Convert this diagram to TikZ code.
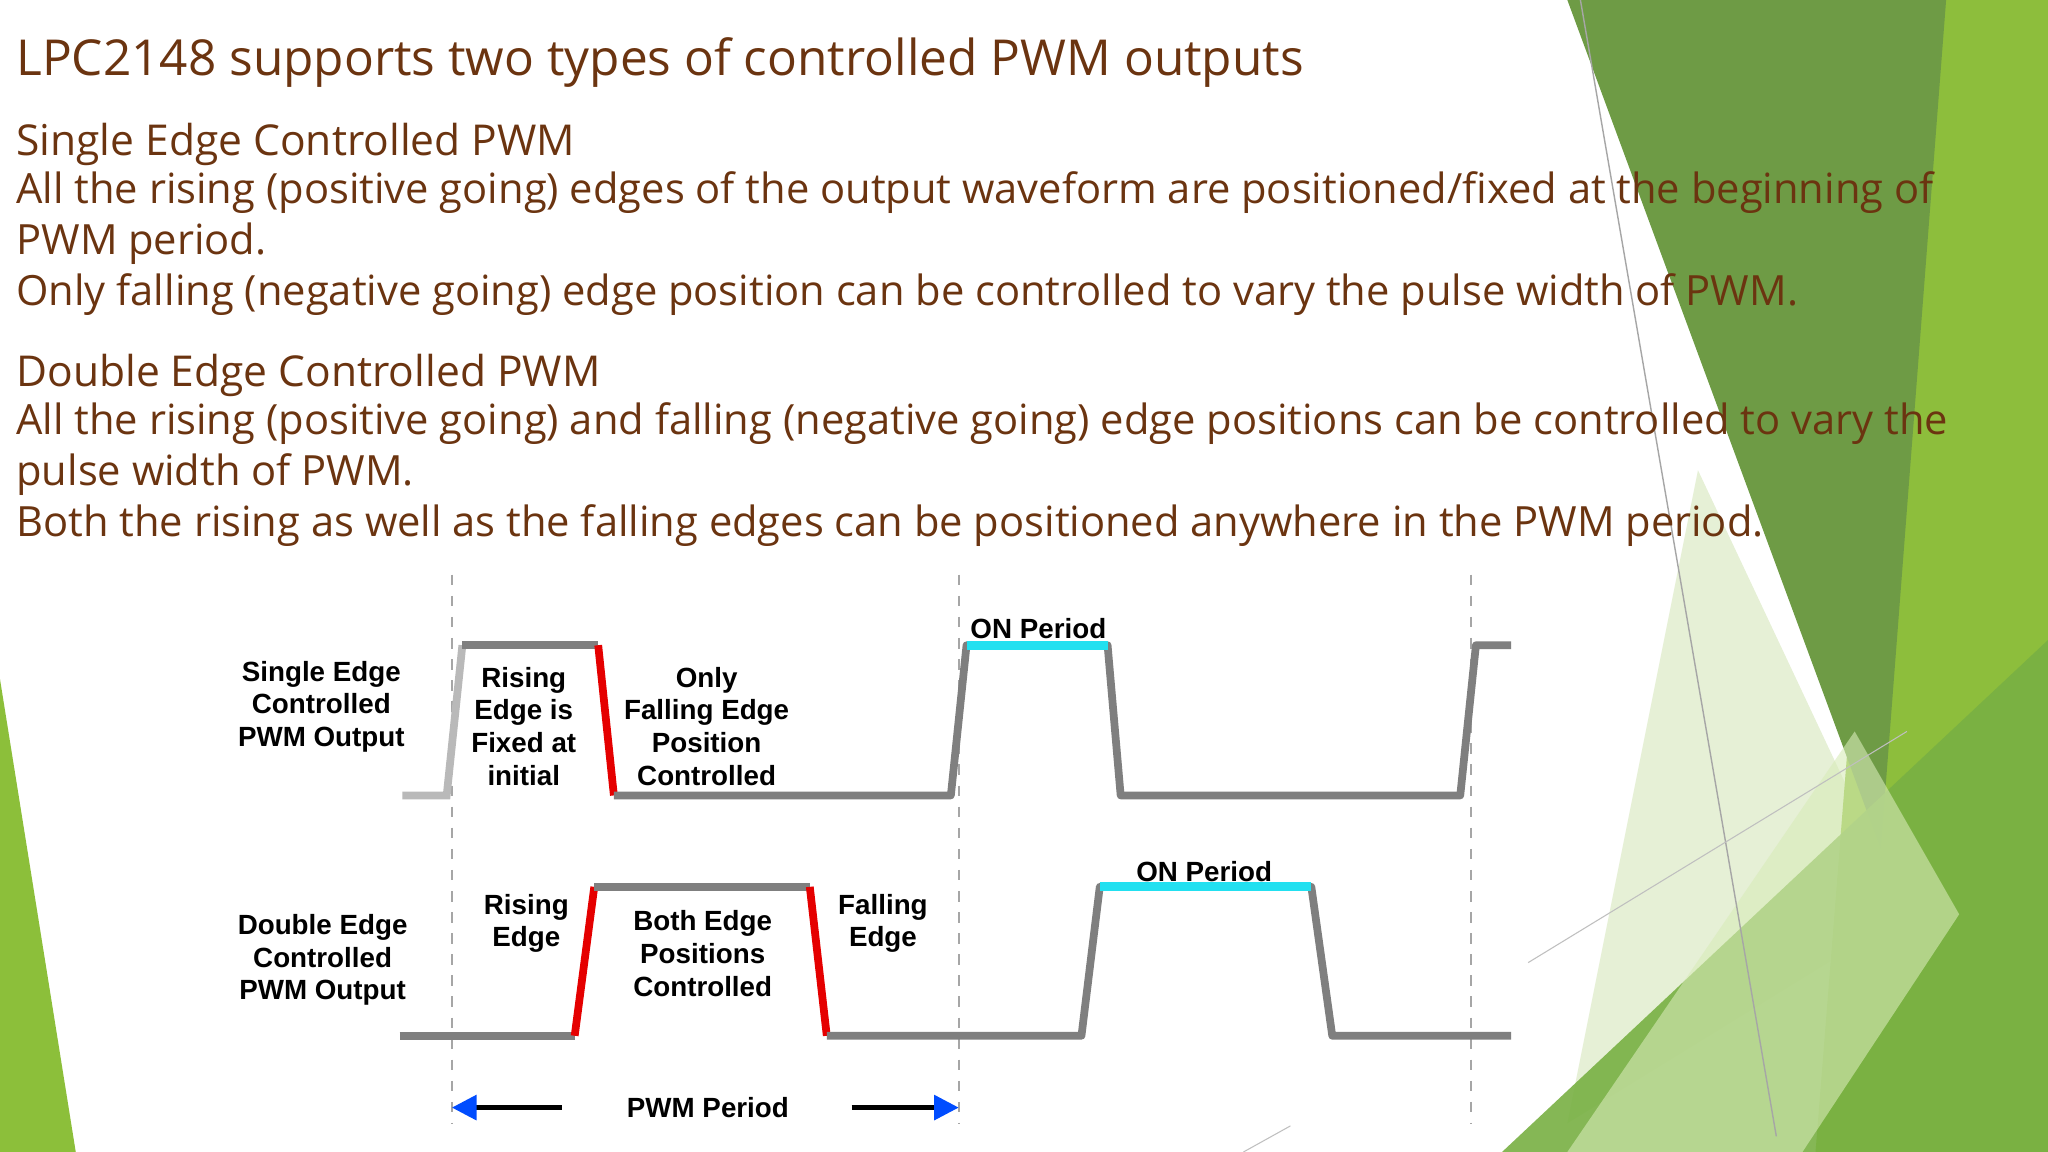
\documentclass[tikz,border=0pt]{standalone}
\usepackage{fontspec}
\setmainfont{Open Sans}
\newfontfamily\diag{Liberation Sans}
\usetikzlibrary{arrows.meta}
\definecolor{brn}{HTML}{6B3410}
\definecolor{wgray}{HTML}{7F7F7F}
\definecolor{cy}{HTML}{22E0F0}
\definecolor{gA}{HTML}{6E9B45}
\definecolor{gB}{HTML}{8DBE3C}
\definecolor{gC}{HTML}{78B043}
\definecolor{gD}{HTML}{D8EBB8}
\definecolor{gE}{HTML}{8CBF3A}
\definecolor{gF}{HTML}{E6F0D6}
\begin{document}
\begin{tikzpicture}[x=0.01306cm,y=-0.01306cm,
  txt/.style={anchor=base west,inner sep=0,text=brn,font=\fontsize{11.85pt}{13pt}\selectfont},
  head/.style={txt,font=\fontsize{12.1pt}{14pt}\selectfont},
  lab/.style={align=center,inner sep=0,font=\diag\bfseries\fontsize{7.9pt}{9.3pt}\selectfont},
  wave/.style={wgray,line width=2.2pt,line join=round},
  redw/.style={red!90!black,line width=2.2pt},
  on/.style={cy,line width=2.6pt},
  guide/.style={gray!70,dashed,line width=0.5pt}]
\useasboundingbox (0,0) rectangle (1568,882);
\fill[white] (0,0) rectangle (1568,882);
% background shapes
\fill[gF] (1300,360) -- (1460,700) -- (1200,860) -- cycle;
\fill[gB] (1460,0) -- (1568,0) -- (1568,882) -- (1390,882) -- cycle;
\fill[gA] (1200,0) -- (1490,0) -- (1440,650) -- cycle;
\fill[gC,opacity=0.9] (1150,882) -- (1568,490) -- (1568,882) -- cycle;
\fill[gD,opacity=0.6] (1200,882) -- (1420,560) -- (1500,700) -- (1380,882) -- cycle;
\fill[gE] (0,520) -- (58,882) -- (0,882) -- cycle;
\draw[gray!70,line width=0.4pt] (1210,0) -- (1360,870);
\draw[gray!50,line width=0.3pt] (1170,737) -- (1460,560);
\draw[gray!50,line width=0.3pt] (952,882) -- (988,862);
% texts
\node[txt,font=\fontsize{14.1pt}{16pt}\selectfont] (t0) at (12,58) {LPC2148 supports two types of controlled PWM outputs};
\node[head] (h1) at (12,119) {Single Edge Controlled PWM};
\node[txt] (l1) at (12,156) {All the rising (positive going) edges of the output waveform are positioned/fixed at the beginning of};
\node[txt] (l2) at (12,195) {PWM period.};
\node[txt] (l3) at (12,234) {Only falling (negative going) edge position can be controlled to vary the pulse width of PWM.};
\node[head] (h2) at (12,296) {Double Edge Controlled PWM};
\node[txt] (l4) at (12,333) {All the rising (positive going) and falling (negative going) edge positions can be controlled to vary the};
\node[txt] (l5) at (12,372) {pulse width of PWM.};
\node[txt] (l6) at (12,411) {Both the rising as well as the falling edges can be positioned anywhere in the PWM period.};
% dashed lines
\coordinate (d1a) at (346,440); \coordinate (d1b) at (346,860);
\coordinate (d2a) at (734,440); \coordinate (d2b) at (734,860);
\coordinate (d3a) at (1126,440); \coordinate (d3b) at (1126,860);
\draw[guide] (d1a) -- (d1b); \draw[guide] (d2a) -- (d2b); \draw[guide] (d3a) -- (d3b);
% top waveform
\draw[gray!55,line width=2.2pt] (308,609) -- (342,609) -- (354,494);
\draw[wave] (354,494) -- (458,494);
\draw[redw] (458,494) -- (470,609);
\draw[wave] (470,609) -- (728,609) -- (740,494) -- (848,494) -- (858,609) -- (1118,609) -- (1130,494) -- (1157,494);
\draw[on] (740,494) -- (848,494);
% bottom waveform
\draw[wave] (306,793) -- (440,793);
\draw[redw] (440,793) -- (455,679);
\draw[wave] (455,679) -- (620,679);
\draw[redw] (620,679) -- (633,793);
\draw[wave] (633,793) -- (828,793) -- (842,679) -- (1004,679) -- (1020,793) -- (1157,793);
\draw[on] (842,679) -- (1004,679);
% labels
\node[lab] (s1) at (246,541) {Single Edge\\Controlled\\PWM Output};
\node[lab] (s2) at (401,556) {Rising\\Edge is\\Fixed at\\initial};
\node[lab] (s3) at (541,556) {Only\\Falling Edge\\Position\\Controlled};
\node[lab] (on1) at (795,481) {ON Period};
\node[lab] (on2) at (922,667) {ON Period};
\node[lab] (b1) at (247,735) {Double Edge\\Controlled\\PWM Output};
\node[lab] (b2) at (403,707) {Rising\\Edge};
\node[lab] (b3) at (538,730) {Both Edge\\Positions\\Controlled};
\node[lab] (b4) at (676,707) {Falling\\Edge};
\node[lab] (pp) at (542,848) {PWM Period};
\coordinate (a1) at (430,848); \coordinate (a1e) at (346,848);
\coordinate (a2) at (652,848); \coordinate (a2e) at (734,848);
\draw[line width=1.2pt,-{Triangle[blue!70!cyan,length=7pt,width=7pt]}] (a1) -- (a1e);
\draw[line width=1.2pt,-{Triangle[blue!70!cyan,length=7pt,width=7pt]}] (a2) -- (a2e);
\end{tikzpicture}
\end{document}
